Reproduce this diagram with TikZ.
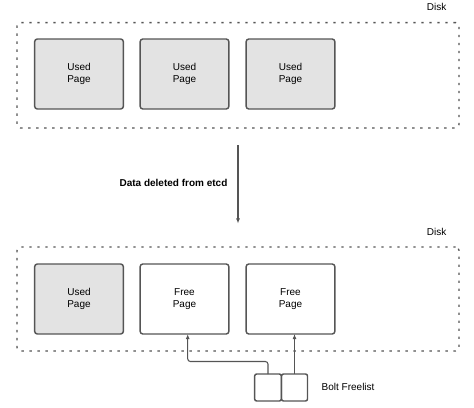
\documentclass[tikz,border=0pt]{standalone}
\usepackage{fontspec}
\setmainfont{Liberation Sans}
\usepackage{xcolor}
\usetikzlibrary{arrows.meta}
\definecolor{linegray}{HTML}{555555}
\definecolor{pagegray}{HTML}{E3E3E3}

\begin{document}
\begin{tikzpicture}[x=0.75pt,y=-0.75pt,
  font=\fontsize{7.5}{9}\selectfont,
  disk/.style={draw=linegray,line width=1pt,dash pattern=on 1.8pt off 4.2pt,
    rounded corners=2.5pt,inner sep=0pt,outer sep=0pt,minimum width=331.5pt},
  page/.style={draw=linegray,line width=1.1pt,rounded corners=2pt,align=center,
    inner sep=0pt,outer sep=0pt,minimum width=66.5pt,minimum height=52.5pt},
  used/.style={page,fill=pagegray},
  cell/.style={draw=linegray,line width=1.1pt,rounded corners=1.5pt,
    inner sep=0pt,outer sep=0pt,minimum height=20.25pt},
  link/.style={draw=linegray,line width=0.8pt,-{Latex[length=3.8pt,width=3pt]}}]
\useasboundingbox (0,0) rectangle (474,407);
  \node[disk,minimum height=79pt] (disktop) at (238,75.25) {};
  \node[anchor=east] (disklabeltop) at (451,7) {Disk};
  \node[used] (u1) at (79,74) {Used\\Page};
  \node[used] (u2) at (184.5,74) {Used\\Page};
  \node[used] (u3) at (290.5,74) {Used\\Page};
  \coordinate (dtop) at (238,145);
  \coordinate (dbot) at (238,223.5);
  \draw[link] (dtop) -- (dbot);
  \node[font=\fontsize{7.5}{9}\selectfont\bfseries] (deleted) at (173.5,183) {Data deleted from etcd};
  \node[disk,minimum height=78pt] (diskbot) at (238,299) {};
  \node[anchor=east] (disklabelbot) at (451,232) {Disk};
  \node[used] (v1) at (79,299) {Used\\Page};
  \node[page] (f1) at (184.5,299) {Free\\Page};
  \node[page] (f2) at (290.5,299) {Free\\Page};
  \node[cell,minimum width=20pt] (c1) at (268,387.5) {};
  \node[cell,minimum width=19.5pt] (c2) at (294.5,387.5) {};
  \node[anchor=west] (freelist) at (317,387) {Bolt Freelist};
  \draw[link,rounded corners=2pt] (c1.north) -- ++(0,-12.5) -| ([xshift=2.4pt]f1.south);
  \draw[link] (c2.north) -- (c2.north |- f2.south);
\end{tikzpicture}
\end{document}
